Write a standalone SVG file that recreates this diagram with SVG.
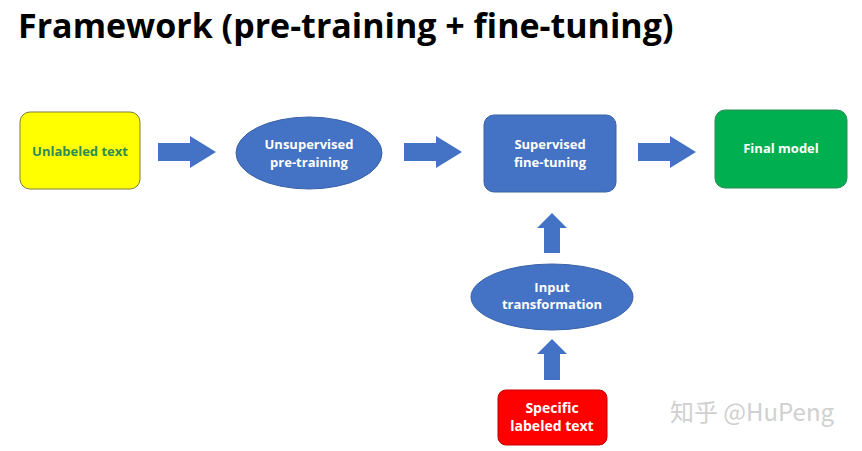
<svg xmlns="http://www.w3.org/2000/svg" width="862" height="451" viewBox="0 0 862 451">
<style>
text{font-family:"Open Sans","Noto Sans",sans-serif;font-weight:bold;text-anchor:middle}
.w{fill:#fff;font-size:13px}
.blue{fill:#4472c4;stroke:#3a62a8;stroke-width:1}
.arr{fill:#4472c4}
</style>
<rect width="862" height="451" fill="#fff"/>
<text x="18" y="38" style="text-anchor:start;font-size:34px" fill="#000">Framework (pre-training + fine-tuning)</text>
<g id="connectors">
<polygon class="arr" points="158,143 190,143 190,136 216,152 190,168 190,161 158,161"/>
<polygon class="arr" points="404,143 436,143 436,136 462,152 436,168 436,161 404,161"/>
<polygon class="arr" points="638,143 670,143 670,136 696,152 670,168 670,161 638,161"/>
<polygon class="arr" points="544,253 544,228 537,228 552,213 567,228 560,228 560,253"/>
<polygon class="arr" points="544,380 544,354 537,354 552,339 567,354 560,354 560,380"/>
</g>
<g id="unlabeled"><rect x="20" y="112" width="120" height="77" rx="10" fill="#ffff00" stroke="#7f7f3a"/><text x="80" y="156" style="font-size:13px" fill="#2e8b57">Unlabeled text</text></g>
<g id="pretrain"><ellipse class="blue" cx="309" cy="153" rx="73" ry="36"/><text class="w" x="309" y="149">Unsupervised</text><text class="w" x="309" y="167">pre-training</text></g>
<g id="finetune"><rect class="blue" x="484" y="115" width="132" height="77" rx="10"/><text class="w" x="550" y="149">Supervised</text><text class="w" x="550" y="167">fine-tuning</text></g>
<g id="final"><rect x="715" y="110" width="132" height="78" rx="10" fill="#00b050" stroke="#2e8b57"/><text class="w" x="781" y="153">Final model</text></g>
<g id="transform"><ellipse class="blue" cx="552" cy="297" rx="81" ry="33"/><text class="w" x="552" y="292">Input</text><text class="w" x="552" y="309">transformation</text></g>
<g id="specific"><rect x="498" y="390" width="109" height="55" rx="8" fill="#ff0000" stroke="#c00000"/><text x="552" y="413" style="font-size:14px" fill="#fff">Specific</text><text x="552" y="431" style="font-size:14px" fill="#fff">labeled text</text></g>
<text x="752" y="421" style="font-size:24px;font-weight:normal;font-family:'Noto Sans CJK SC',sans-serif" fill="#d0d0d0">知乎 @HuPeng</text>
</svg>
